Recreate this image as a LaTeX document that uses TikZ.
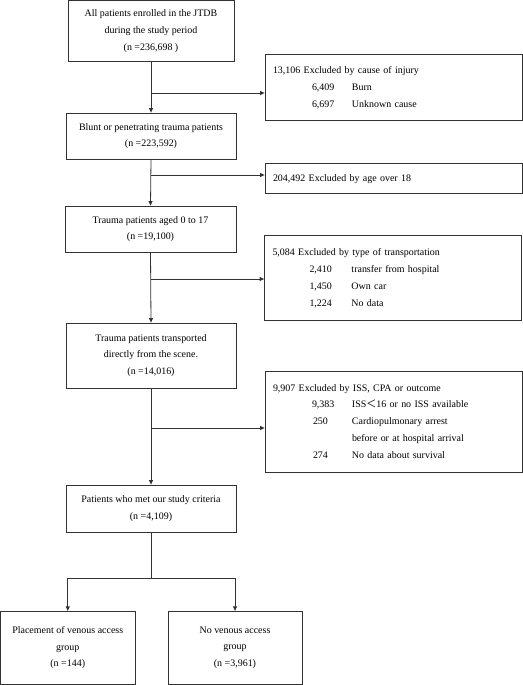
\documentclass[tikz,border=0pt]{standalone}
\usepackage{fontspec}
\setmainfont{Liberation Serif}
\newfontfamily\cjk{Noto Sans CJK SC}
\usetikzlibrary{arrows.meta}
\tikzset{
  mainbox/.style={draw=black!80, line width=0.8bp, align=center, inner sep=0pt,
    font=\fontsize{10}{16.7}\selectfont},
  exbox/.style={draw=black!80, line width=0.8bp, align=left, inner xsep=8bp, inner ysep=0pt,
    text width=241bp, minimum width=257bp, font=\fontsize{10}{17}\selectfont},
  conn/.style={draw=black!80, line width=0.8bp},
  arr/.style={conn, -{Triangle[length=4.5bp,width=4bp]}}
}
\newcommand{\extab}[1]{\begin{tabular}{@{\hspace{39bp}}p{40bp}@{}l@{}}#1\end{tabular}}
\begin{document}
\begin{tikzpicture}[x=1bp,y=-1bp]
\useasboundingbox (0,0) rectangle (523,685);
\fill[white] (0,0) rectangle (523,685);
% main boxes
\node[mainbox, minimum width=166bp, minimum height=61bp] (b1) at (151,31)
  {All patients enrolled in the JTDB\\during the study period\\(n =236,698 )};
\node[mainbox, minimum width=170bp, minimum height=46bp] (b2) at (151,136)
  {Blunt or penetrating trauma patients\\(n =223,592)};
\node[mainbox, minimum width=171bp, minimum height=46bp] (b3) at (150.5,229)
  {Trauma patients aged 0 to 17\\(n =19,100)};
\node[mainbox, minimum width=170bp, minimum height=65bp] (b4) at (151,355.5)
  {Trauma patients transported\\directly from the scene.\\(n =14,016)};
\node[mainbox, minimum width=170bp, minimum height=47bp] (b5) at (151,508.5)
  {Patients who met our study criteria\\(n =4,109)};
\node[mainbox, minimum width=134.5bp, minimum height=73bp] (b6) at (67.75,647.75)
  {Placement of venous access\\group\\(n =144)};
\node[mainbox, minimum width=134bp, minimum height=73bp] (b7) at (235,647.75)
  {No venous access\\group\\(n =3,961)};
% exclusion boxes
\node[exbox, minimum height=66bp] (e1) at (393.5,87)
  {\extab{\multicolumn{2}{@{}l@{}}{13,106 Excluded by cause of injury}\\
  6,409 & Burn\\ 6,697 & Unknown cause}};
\node[exbox, minimum height=30bp] (e2) at (393.5,178)
  {\extab{\multicolumn{2}{@{}l@{}}{204,492 Excluded by age over 18}}};
\node[exbox, minimum height=85bp] (e3) at (393,277.5)
  {\begin{tabular}{@{\hspace{37bp}}p{42bp}@{}l@{}}\multicolumn{2}{@{}l@{}}{5,084 Excluded by type of transportation}\\
  2,410 & transfer from hospital\\ 1,450 & Own car\\ 1,224 & No data\end{tabular}};
\node[exbox, minimum height=101bp] (e4) at (393.5,421.5)
  {\extab{\multicolumn{2}{@{}l@{}}{9,907 Excluded by ISS, CPA or outcome}\\
  9,383 & ISS{\cjk ＜}16 or no ISS available\\ \hspace*{1bp}250 & Cardiopulmonary arrest\\
  & before or at hospital arrival\\ \hspace*{1bp}274 & No data about survival}};
% main flow
\draw[arr] (b1.south) -- (b2.north);
\draw[arr] (b2.south) -- (b3.north);
\draw[arr] (b3.south) -- (b4.north);
\draw[arr] (b4.south) -- (b5.north);
% side arrows
\coordinate (s1) at (151,93);
\coordinate (s2) at (151,175);
\coordinate (s3) at (150.5,279);
\coordinate (s4) at (151,428);
\draw[arr] (s1) -- (s1 -| e1.west);
\draw[arr] (s2) -- (s2 -| e2.west);
\draw[arr] (s3) -- (s3 -| e3.west);
\draw[arr] (s4) -- (s4 -| e4.west);
% branch
\coordinate (j) at (151,578);
\draw[conn] (b5.south) -- (j);
\draw[conn] (b6.north |- j) -- (b7.north |- j);
\draw[arr] (b6.north |- j) -- (b6.north);
\draw[arr] (b7.north |- j) -- (b7.north);
\end{tikzpicture}
\end{document}
